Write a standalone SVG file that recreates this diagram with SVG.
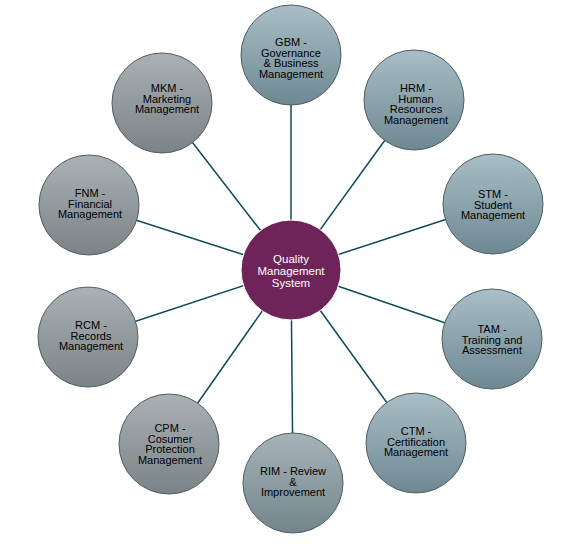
<svg xmlns="http://www.w3.org/2000/svg" width="571" height="544" viewBox="0 0 571 544">
<defs>
<linearGradient id="gb" x1="0" y1="0" x2="0" y2="1">
<stop offset="0" stop-color="#a9bec6"/>
<stop offset="1" stop-color="#6e8892"/>
</linearGradient>
<linearGradient id="gg" x1="0" y1="0" x2="0" y2="1">
<stop offset="0" stop-color="#abb1b4"/>
<stop offset="1" stop-color="#7a8387"/>
</linearGradient>
<linearGradient id="gm" x1="0" y1="0" x2="0" y2="1">
<stop offset="0" stop-color="#a6b4b9"/>
<stop offset="1" stop-color="#73858b"/>
</linearGradient>
</defs>
<style>
.n{stroke:#4f5e64;stroke-width:1}
.b{fill:url(#gb)}
.g{fill:url(#gg)}
.m{fill:url(#gm)}
.t{font-family:"Liberation Sans",Arial,sans-serif;font-size:11px;fill:#000;text-anchor:middle}
.c{font-family:"Liberation Sans",Arial,sans-serif;font-size:11.5px;fill:#fff;text-anchor:middle}
.e{stroke:#0f4a58;stroke-width:1.5;fill:none}
</style>
<rect width="571" height="544" fill="#fff"/>
<g id="connectors">
<line class="e" x1="291" y1="270" x2="291" y2="55"/>
<line class="e" x1="291" y1="270" x2="414" y2="100"/>
<line class="e" x1="291" y1="270" x2="493" y2="204"/>
<line class="e" x1="291" y1="270" x2="492" y2="339"/>
<line class="e" x1="291" y1="270" x2="416" y2="443"/>
<line class="e" x1="291" y1="270" x2="293" y2="483"/>
<line class="e" x1="291" y1="270" x2="169" y2="444"/>
<line class="e" x1="291" y1="270" x2="88" y2="337"/>
<line class="e" x1="291" y1="270" x2="89" y2="205"/>
<line class="e" x1="291" y1="270" x2="162" y2="103"/>
</g>
<g id="QMS">
<circle cx="291" cy="270" r="50" fill="#6e2459" stroke="#ffffff" stroke-width="1"/>
<text class="c" x="291" y="263">Quality</text>
<text class="c" x="291" y="275">Management</text>
<text class="c" x="291" y="287">System</text>
</g>
<g id="GBM">
<circle class="n b" cx="291" cy="55" r="50"/>
<text class="t" x="291" y="46">GBM -</text>
<text class="t" x="291" y="56.5">Governance</text>
<text class="t" x="291" y="67">&amp; Business</text>
<text class="t" x="291" y="77.5">Management</text>
</g>
<g id="HRM">
<circle class="n b" cx="414" cy="100" r="50"/>
<text class="t" x="416" y="92">HRM -</text>
<text class="t" x="416" y="102.5">Human</text>
<text class="t" x="416" y="113">Resources</text>
<text class="t" x="416" y="123.5">Management</text>
</g>
<g id="STM">
<circle class="n b" cx="493" cy="204" r="50"/>
<text class="t" x="493" y="198">STM -</text>
<text class="t" x="493" y="208.5">Student</text>
<text class="t" x="493" y="219">Management</text>
</g>
<g id="TAM">
<circle class="n b" cx="492" cy="339" r="50"/>
<text class="t" x="492" y="333">TAM -</text>
<text class="t" x="492" y="343.5">Training and</text>
<text class="t" x="492" y="354">Assessment</text>
</g>
<g id="CTM">
<circle class="n b" cx="416" cy="443" r="50"/>
<text class="t" x="416" y="435">CTM -</text>
<text class="t" x="416" y="445.5">Certification</text>
<text class="t" x="416" y="456">Management</text>
</g>
<g id="RIM">
<circle class="n m" cx="293" cy="483" r="50"/>
<text class="t" x="293" y="475">RIM - Review</text>
<text class="t" x="293" y="485.5">&amp;</text>
<text class="t" x="293" y="496">Improvement</text>
</g>
<g id="CPM">
<circle class="n g" cx="169" cy="444" r="50"/>
<text class="t" x="170" y="432">CPM -</text>
<text class="t" x="170" y="442.5">Cosumer</text>
<text class="t" x="170" y="453">Protection</text>
<text class="t" x="170" y="463.5">Management</text>
</g>
<g id="RCM">
<circle class="n g" cx="88" cy="337" r="50"/>
<text class="t" x="91" y="329">RCM -</text>
<text class="t" x="91" y="339.5">Records</text>
<text class="t" x="91" y="350">Management</text>
</g>
<g id="FNM">
<circle class="n g" cx="89" cy="205" r="50"/>
<text class="t" x="90" y="197">FNM -</text>
<text class="t" x="90" y="207.5">Financial</text>
<text class="t" x="90" y="218">Management</text>
</g>
<g id="MKM">
<circle class="n g" cx="162" cy="103" r="50"/>
<text class="t" x="167" y="92">MKM -</text>
<text class="t" x="167" y="102.5">Marketing</text>
<text class="t" x="167" y="113">Management</text>
</g>
</svg>
